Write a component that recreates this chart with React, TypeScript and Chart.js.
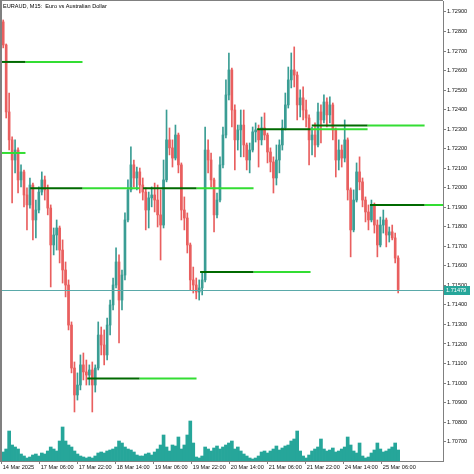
import React, { useEffect, useRef } from "react";
import { Chart, registerables } from "chart.js";

Chart.register(...registerables);

const SYMBOL_TITLE = "EURAUD, M15:  Euro vs Australian Dollar";
// each drawn candle aggregates this many M15 bars; x values are in M15 bars since 14 Mar 14:00
const BARS_PER_CANDLE = 5;

const opens = [
  1.72849, 1.72731, 1.72388, 1.72245, 1.72142, 1.72193, 1.7204, 1.72081, 1.71963, 1.71912,
  1.72014, 1.71835, 1.71886, 1.71978, 1.7204, 1.71989, 1.71896, 1.71707, 1.71758, 1.71794,
  1.71681, 1.71579, 1.71502, 1.71297, 1.71077, 1.70939, 1.7099, 1.71093, 1.71057, 1.71041,
  1.71067, 1.7099, 1.71077, 1.71246, 1.71195, 1.71144, 1.71297, 1.714, 1.71502, 1.7162,
  1.71425, 1.71553, 1.71835, 1.71989, 1.72117, 1.7205, 1.72081, 1.72014, 1.71978, 1.71886,
  1.71948, 1.71963, 1.71937, 1.71861, 1.71809, 1.7204, 1.72245, 1.72204, 1.72152, 1.7227,
  1.72117, 1.71886, 1.71845, 1.71707, 1.71528, 1.71502, 1.71466, 1.71487, 1.71528, 1.72193,
  1.72142, 1.7204, 1.71861, 1.71937, 1.72117, 1.7227, 1.72475, 1.72603, 1.72398, 1.72245,
  1.72296, 1.72321, 1.72219, 1.72142, 1.72193, 1.72286, 1.72296, 1.72245, 1.72306, 1.7227,
  1.72183, 1.72132, 1.7205, 1.72142, 1.72219, 1.72306, 1.72424, 1.72552, 1.72603, 1.72577,
  1.72424, 1.7246, 1.72398, 1.72357, 1.72245, 1.7227, 1.72219, 1.72388, 1.72347, 1.72439,
  1.72373, 1.72424, 1.72296, 1.72142, 1.72193, 1.72152, 1.72245, 1.71989, 1.71784, 1.71937,
  1.72081, 1.7203, 1.71937, 1.71876, 1.71835, 1.71912, 1.71809, 1.71707, 1.71809, 1.71835,
  1.71758, 1.71774, 1.71743, 1.7164,
];

const highs = [
  1.72859, 1.72736, 1.72485, 1.7226, 1.72245, 1.72204, 1.72117, 1.72091, 1.71999, 1.7205,
  1.72024, 1.71937, 1.72004, 1.72081, 1.7206, 1.72014, 1.71912, 1.71794, 1.71835, 1.71804,
  1.71733, 1.7162, 1.71528, 1.71313, 1.71108, 1.71052, 1.71144, 1.71154, 1.71118, 1.71093,
  1.71108, 1.71093, 1.71313, 1.71287, 1.71272, 1.71333, 1.71425, 1.71538, 1.71692, 1.71656,
  1.71579, 1.71871, 1.7204, 1.72209, 1.72142, 1.72106, 1.72101, 1.7205, 1.71999, 1.71978,
  1.72004, 1.72024, 1.72014, 1.71989, 1.72142, 1.72398, 1.72306, 1.72245, 1.72321, 1.7228,
  1.72127, 1.71953, 1.71871, 1.71717, 1.71594, 1.71538, 1.71528, 1.71564, 1.72311, 1.72245,
  1.72178, 1.7205, 1.71973, 1.72158, 1.72311, 1.72552, 1.7269, 1.72613, 1.72424, 1.72321,
  1.72398, 1.72398, 1.72229, 1.72229, 1.72311, 1.72332, 1.72321, 1.72362, 1.72383, 1.7228,
  1.72204, 1.72158, 1.72219, 1.72245, 1.72347, 1.72485, 1.72618, 1.7269, 1.72721, 1.72593,
  1.72501, 1.72516, 1.72449, 1.72373, 1.72311, 1.72332, 1.72434, 1.72424, 1.72475, 1.7246,
  1.72465, 1.72434, 1.72306, 1.72245, 1.72219, 1.72347, 1.72255, 1.71999, 1.71989, 1.72127,
  1.72158, 1.7205, 1.71953, 1.71912, 1.71937, 1.71922, 1.71835, 1.7185, 1.71886, 1.71845,
  1.71799, 1.71809, 1.71768, 1.71651,
];

const lows = [
  1.72716, 1.72357, 1.72193, 1.71922, 1.72076, 1.71973, 1.72004, 1.71902, 1.71784, 1.71896,
  1.71733, 1.71743, 1.71871, 1.71963, 1.71937, 1.71861, 1.71492, 1.71656, 1.71681, 1.71615,
  1.71512, 1.71441, 1.71272, 1.71052, 1.70852, 1.70913, 1.70965, 1.71016, 1.7099, 1.7099,
  1.70852, 1.70954, 1.71067, 1.71144, 1.71093, 1.71118, 1.71246, 1.71374, 1.71487, 1.71205,
  1.71374, 1.71528, 1.71825, 1.71978, 1.72004, 1.71989, 1.71973, 1.71937, 1.71784, 1.71794,
  1.71902, 1.71876, 1.71799, 1.7163, 1.71794, 1.7203, 1.72168, 1.72106, 1.72142, 1.72076,
  1.71835, 1.71784, 1.71666, 1.71477, 1.71461, 1.71431, 1.71425, 1.71451, 1.71518, 1.72076,
  1.72004, 1.71774, 1.71845, 1.71927, 1.72101, 1.72255, 1.72449, 1.72311, 1.72091, 1.72193,
  1.72158, 1.72158, 1.72091, 1.72076, 1.72183, 1.72234, 1.72106, 1.72219, 1.72245, 1.72127,
  1.72081, 1.71973, 1.72014, 1.72076, 1.72193, 1.72296, 1.72408, 1.72511, 1.72516, 1.72347,
  1.72362, 1.72347, 1.72311, 1.72117, 1.72168, 1.72158, 1.72209, 1.72229, 1.72332, 1.72311,
  1.72332, 1.72245, 1.72055, 1.72091, 1.72106, 1.72132, 1.71937, 1.71646, 1.71774, 1.71927,
  1.71989, 1.71902, 1.71825, 1.71784, 1.71825, 1.71768, 1.71646, 1.71697, 1.71768, 1.71697,
  1.71722, 1.71733, 1.71615, 1.71461,
];

const closes = [
  1.72731, 1.72388, 1.72245, 1.72142, 1.72193, 1.7204, 1.72081, 1.71963, 1.71912, 1.72014,
  1.71835, 1.71886, 1.71978, 1.7204, 1.71989, 1.71896, 1.71707, 1.71758, 1.71794, 1.71681,
  1.71579, 1.71502, 1.71297, 1.71077, 1.70939, 1.7099, 1.71093, 1.71057, 1.71041, 1.71067,
  1.7099, 1.71077, 1.71246, 1.71195, 1.71144, 1.71297, 1.714, 1.71502, 1.7162, 1.71425,
  1.71553, 1.71835, 1.71989, 1.72117, 1.7205, 1.72081, 1.72014, 1.71978, 1.71886, 1.71948,
  1.71963, 1.71937, 1.71861, 1.71809, 1.7204, 1.72245, 1.72204, 1.72152, 1.7227, 1.72117,
  1.71886, 1.71845, 1.71707, 1.71528, 1.71502, 1.71466, 1.71487, 1.71528, 1.72193, 1.72142,
  1.7204, 1.71861, 1.71937, 1.72117, 1.7227, 1.72475, 1.72603, 1.72398, 1.72245, 1.72296,
  1.72321, 1.72219, 1.72142, 1.72193, 1.72286, 1.72296, 1.72245, 1.72306, 1.7227, 1.72183,
  1.72132, 1.7205, 1.72142, 1.72219, 1.72306, 1.72424, 1.72552, 1.72603, 1.72577, 1.72424,
  1.7246, 1.72398, 1.72357, 1.72245, 1.7227, 1.72219, 1.72388, 1.72347, 1.72439, 1.72373,
  1.72424, 1.72296, 1.72142, 1.72193, 1.72152, 1.72245, 1.71989, 1.71784, 1.71937, 1.72081,
  1.7203, 1.71937, 1.71876, 1.71835, 1.71912, 1.71809, 1.71707, 1.71809, 1.71835, 1.71758,
  1.71774, 1.71743, 1.7164, 1.71479,
];

const volumes = [
  225, 300, 750, 400, 350, 300, 175, 125, 75, 100,
  150, 175, 125, 200, 175, 250, 350, 300, 250, 500,
  850, 500, 400, 350, 250, 175, 125, 100, 75, 100,
  75, 125, 200, 225, 200, 250, 275, 300, 350, 500,
  450, 350, 300, 275, 225, 150, 125, 125, 175, 200,
  150, 225, 300, 400, 650, 350, 250, 400, 375, 600,
  300, 400, 650, 1000, 450, 100, 75, 125, 350, 300,
  250, 325, 375, 300, 350, 400, 450, 500, 300, 350,
  250, 175, 125, 75, 50, 75, 125, 225, 250, 200,
  250, 300, 375, 275, 325, 375, 400, 500, 550, 750,
  250, 125, 75, 150, 250, 300, 350, 550, 300, 250,
  275, 325, 225, 250, 300, 350, 600, 400, 250, 200,
  450, 125, 75, 100, 200, 275, 450, 300, 225, 250,
  300, 350, 450, 275,
];

const timeTickBars = [0, 64, 128, 192, 256, 320, 384, 448, 512, 576, 640];
const timeTickLabels = [
  "14 Mar 2025", "17 Mar 06:00", "17 Mar 22:00", "18 Mar 14:00", "19 Mar 06:00",
  "19 Mar 22:00", "20 Mar 14:00", "21 Mar 06:00", "21 Mar 22:00", "24 Mar 14:00", "25 Mar 06:00",
];
const priceTicks = [
  1.707, 1.708, 1.709, 1.71, 1.711, 1.712, 1.713, 1.714, 1.715, 1.716, 1.717, 1.718,
  1.719, 1.72, 1.721, 1.722, 1.723, 1.724, 1.725, 1.726, 1.727, 1.728, 1.729,
];

// daily levels: dark from origin bar to the day start, bright through that day
const levelPrices = [1.72644, 1.72178, 1.71997, 1.71997, 1.71024, 1.71569, 1.72299, 1.72318, 1.71912];
const levelOrigin = [-3, -3, 48, 238, 144, 334, 430, 522, 620];
const levelDayStart = [40, -3, 136, 328, 232, 424, 520, 616, 712];
const levelDayEnd = [136, 40, 232, 424, 328, 520, 616, 712, 808];

const X_MIN = -2.9;
const X_MAX = 743;
const Y_MIN = 1.70601;
const Y_MAX = 1.72956;
const VOL_MAX = 11500;

const BULL = "#3a9d94";
const BEAR = "#e95f5f";
const VOL_COLOR = "#26a69a";
const LEVEL_DARK = "#006a00";
const LEVEL_BRIGHT = "#33dd33";
const FRAME = "#808080";
const FONT = '"Liberation Sans", Arial, sans-serif';

export default function App() {
  const ref = useRef<HTMLCanvasElement>(null);

  useEffect(() => {
    const canvas = ref.current;
    if (!canvas) return;
    const xs = closes.map((_, i) => i * BARS_PER_CANDLE + BARS_PER_CANDLE / 2);
    const colors = closes.map((c, i) => (c >= opens[i] ? BULL : BEAR));
    const last = closes[closes.length - 1];

    const datasets: any[] = [];
    levelPrices.forEach((p, k) => {
      datasets.push({
        type: "line",
        data: [{ x: levelOrigin[k], y: p }, { x: levelDayStart[k], y: p }],
        borderColor: LEVEL_DARK,
        borderWidth: 2,
        pointRadius: 0,
        order: 0,
        clip: 0,
      });
      datasets.push({
        type: "line",
        data: [{ x: levelDayStart[k], y: p }, { x: levelDayEnd[k], y: p }],
        borderColor: LEVEL_BRIGHT,
        borderWidth: 2,
        pointRadius: 0,
        order: 0,
        clip: 0,
      });
    });
    datasets.push({
      type: "bar",
      data: xs.map((x, i) => ({ x, y: [opens[i], closes[i]] })),
      backgroundColor: colors,
      barThickness: 2,
      minBarLength: 1,
      grouped: false,
      order: 1,
    });
    datasets.push({
      type: "bar",
      data: xs.map((x, i) => ({ x, y: [lows[i], highs[i]] })),
      backgroundColor: colors,
      barThickness: 1,
      grouped: false,
      order: 2,
    });
    datasets.push({
      type: "bar",
      yAxisID: "yv",
      data: xs.map((x, i) => ({ x, y: volumes[i] })),
      backgroundColor: VOL_COLOR,
      barThickness: 3,
      grouped: false,
      order: 3,
    });

    const overlay = {
      id: "mtOverlay",
      afterDatasetsDraw(chart: any) {
        const { ctx, chartArea, scales } = chart;
        const yp = Math.round(scales.y.getPixelForValue(last)) + 0.5;
        ctx.save();
        ctx.strokeStyle = "#5aa9a9";
        ctx.lineWidth = 1;
        ctx.beginPath();
        ctx.moveTo(chartArea.left, yp);
        ctx.lineTo(chartArea.right, yp);
        ctx.stroke();
        ctx.fillStyle = FRAME;
        ctx.fillRect(0, 0, chartArea.right, 1);
        ctx.fillRect(0, 0, 2, chartArea.bottom);
        ctx.fillStyle = "#000";
        ctx.font = `5.6px ${FONT}`;
        ctx.textBaseline = "middle";
        ctx.textAlign = "left";
        ctx.fillText(SYMBOL_TITLE, 3, 6);
        ctx.restore();
      },
      afterDraw(chart: any) {
        const { ctx, chartArea, scales } = chart;
        const yp = Math.round(scales.y.getPixelForValue(last)) + 0.5;
        ctx.save();
        ctx.fillStyle = VOL_COLOR;
        ctx.fillRect(chartArea.right + 1, yp - 4.5, 26, 9);
        ctx.fillStyle = "#fff";
        ctx.font = `5.6px ${FONT}`;
        ctx.textBaseline = "middle";
        ctx.textAlign = "left";
        ctx.fillText(last.toFixed(5), chartArea.right + 3, yp);
        ctx.restore();
      },
    };

    const chart = new Chart(canvas, {
      type: "bar",
      data: { datasets },
      options: {
        responsive: false,
        animation: false,
        devicePixelRatio: 1,
        events: [],
        layout: { padding: { top: 1, left: 0, right: 0, bottom: 0 } },
        plugins: { legend: { display: false }, tooltip: { enabled: false } },
        scales: {
          x: {
            type: "linear",
            min: X_MIN,
            max: X_MAX,
            offset: false,
            position: "bottom",
            grid: { display: true, drawOnChartArea: false, offset: false, tickLength: 3, color: FRAME },
            border: { display: true, color: FRAME, width: 1 },
            ticks: {
              autoSkip: false,
              maxRotation: 0,
              minRotation: 0,
              align: "start",
              labelOffset: 1,
              padding: 0,
              color: "#111",
              font: { family: FONT, size: 5.6 },
              callback: (_v: any, idx: number) => timeTickLabels[idx] ?? "",
            },
            afterBuildTicks: (s: any) => {
              s.ticks = timeTickBars.map((v) => ({ value: v }));
            },
            afterFit: (s: any) => {
              s.height = 13;
              s.paddingLeft = 0;
              s.paddingRight = 0;
            },
          },
          y: {
            type: "linear",
            position: "right",
            min: Y_MIN,
            max: Y_MAX,
            grid: { display: true, drawOnChartArea: false, tickLength: 3, color: FRAME },
            border: { display: true, color: FRAME, width: 1 },
            ticks: {
              padding: 1,
              color: "#111",
              font: { family: FONT, size: 5.6 },
              callback: (v: any) => Number(v).toFixed(5),
            },
            afterBuildTicks: (s: any) => {
              s.ticks = priceTicks.map((v) => ({ value: v }));
            },
            afterFit: (s: any) => {
              s.width = 31;
              s.paddingTop = 0;
              s.paddingBottom = 0;
            },
          },
          yv: { type: "linear", display: false, min: 0, max: VOL_MAX },
        },
      } as any,
      plugins: [overlay],
    });
    return () => chart.destroy();
  }, []);

  return (
    <div style={{ position: "fixed", left: 0, top: 0, width: 474, height: 474, background: "#fff" }}>
      <canvas ref={ref} width={474} height={474} />
    </div>
  );
}
